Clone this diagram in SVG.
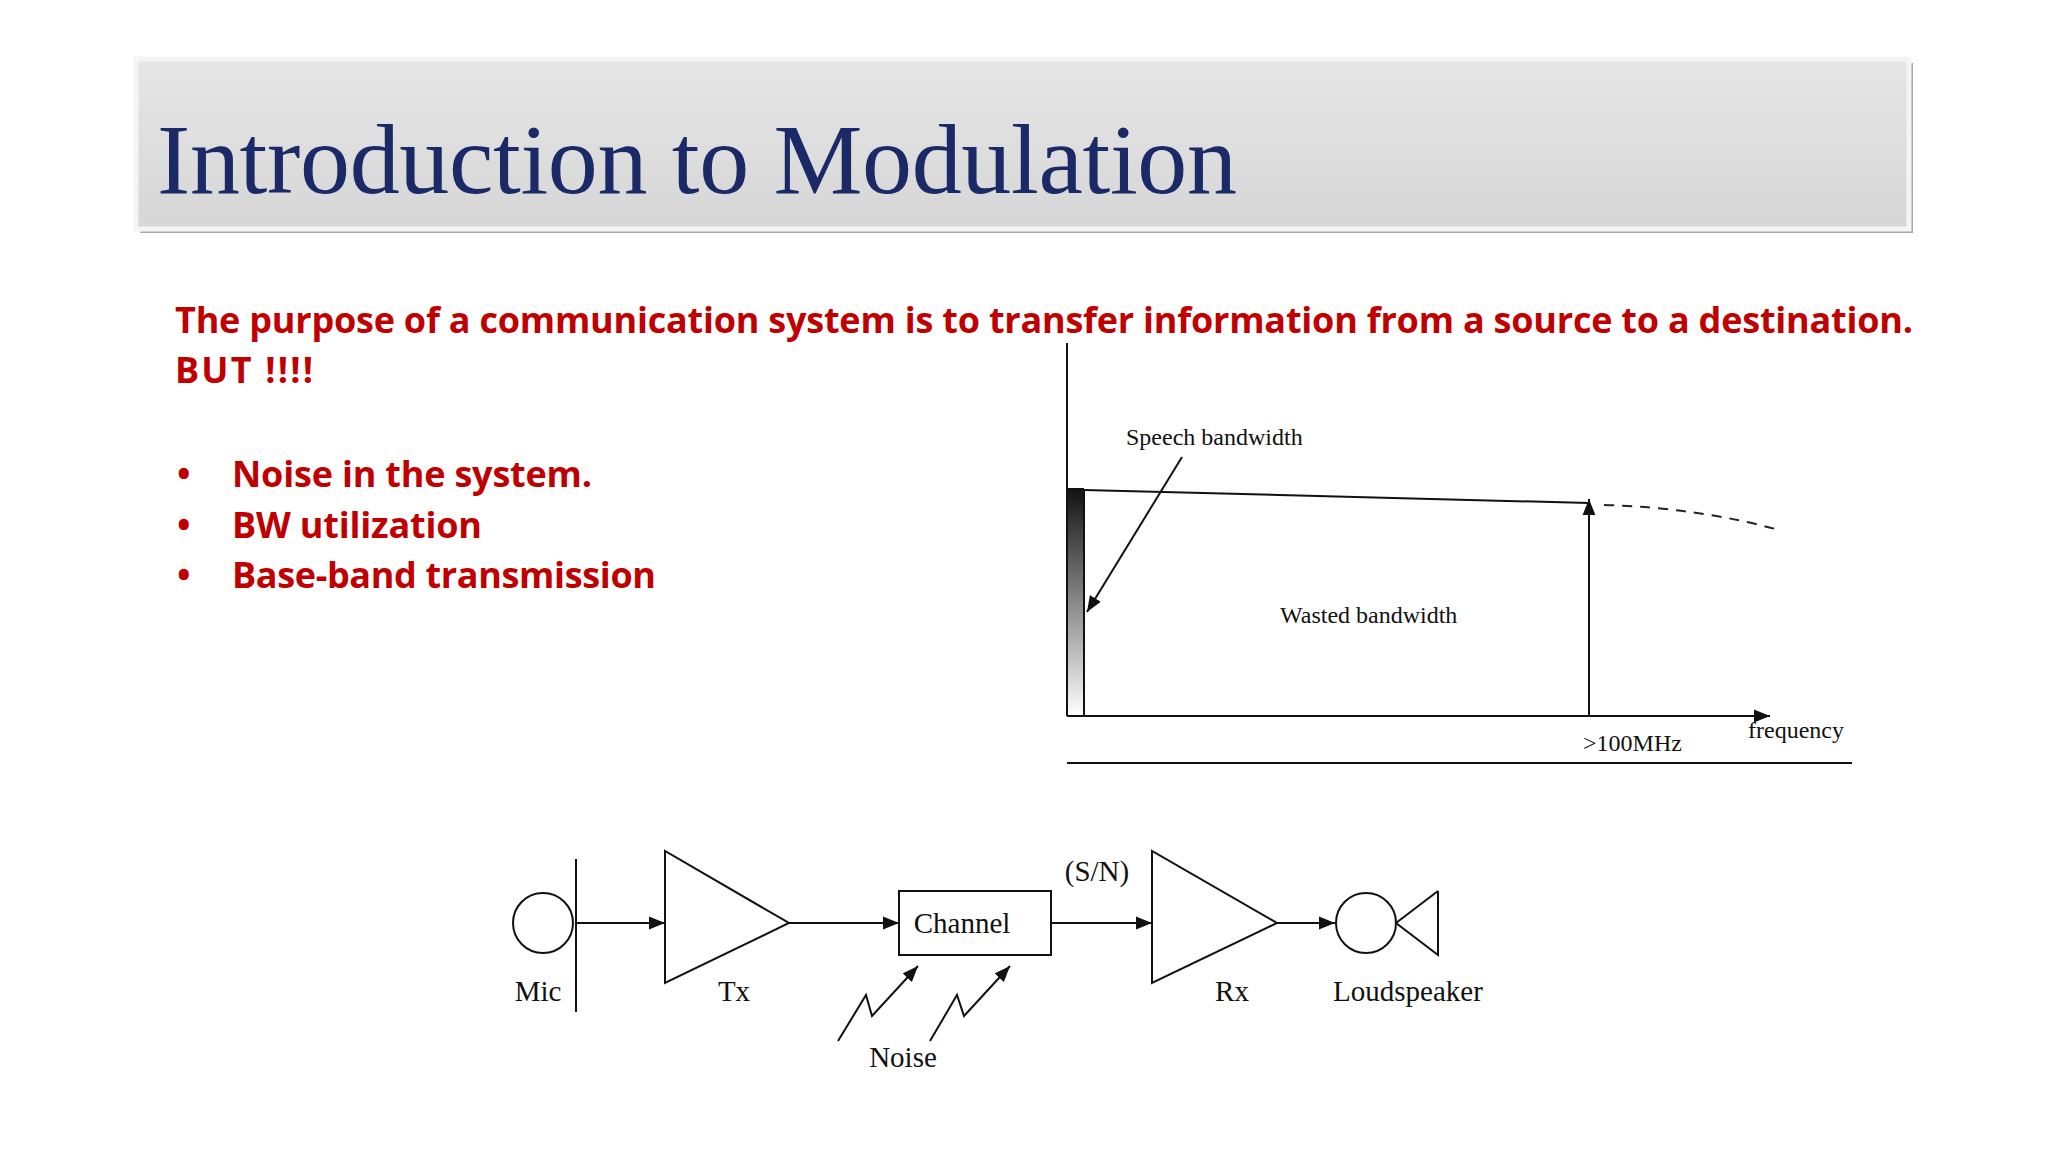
<svg xmlns="http://www.w3.org/2000/svg" width="2048" height="1152" viewBox="0 0 2048 1152">
<defs>
<style>
.red{font-family:"Open Sans","Liberation Sans",sans-serif;font-weight:bold;fill:#c00000;font-size:36px}
.lbl{font-family:"Liberation Serif",serif;fill:#111;font-size:24px}
.bl{font-size:29px}
.ln{stroke:#111;stroke-width:2;fill:none}
</style>
<marker id="ah" viewBox="0 0 10 10" refX="10" refY="5" markerWidth="8" markerHeight="8" orient="auto-start-reverse"><path d="M0,1 L10,5 L0,9 z" fill="#111"/></marker>
<linearGradient id="g" x1="0" y1="0" x2="0" y2="1"><stop offset="0" stop-color="#111"/><stop offset="1" stop-color="#fff"/></linearGradient>
<linearGradient id="tb" x1="0" y1="0" x2="0" y2="1"><stop offset="0" stop-color="#e6e6e6"/><stop offset="1" stop-color="#d6d6d6"/></linearGradient>
</defs>
<rect width="2048" height="1152" fill="#fff"/>
<g id="title">
<rect x="140" y="63" width="1773" height="170" fill="#aaa"/>
<rect x="136" y="59" width="1773" height="170" fill="url(#tb)" stroke="#f4f4f4" stroke-width="5"/>
<text x="157" y="193" font-family="Liberation Serif,serif" font-size="100" fill="#1b2a66" textLength="1080">Introduction to Modulation</text>
</g>
<g id="text">
<text class="red" x="175" y="333" textLength="1738">The purpose of a communication system is to transfer information from a source to a destination.</text>
<text class="red" x="175" y="383" textLength="138">BUT !!!!</text>
<text class="red" x="177" y="487">•</text><text class="red" x="232" y="487" textLength="360">Noise in the system.</text>
<text class="red" x="177" y="538">•</text><text class="red" x="232" y="538" textLength="250">BW utilization</text>
<text class="red" x="177" y="588">•</text><text class="red" x="232" y="588" textLength="424">Base-band transmission</text>
</g>
<g id="graph">
<rect x="1068" y="488" width="16" height="228" fill="url(#g)"/>
<line class="ln" x1="1067" y1="343" x2="1067" y2="716"/>
<line class="ln" x1="1067" y1="716" x2="1770" y2="716" marker-end="url(#ah)"/>
<line class="ln" x1="1084" y1="490" x2="1084" y2="716"/>
<line class="ln" x1="1084" y1="490" x2="1589" y2="503"/>
<line class="ln" x1="1589" y1="716" x2="1589" y2="499" marker-end="url(#ah)"/>
<path d="M1604,505 Q1700,508 1779,530" stroke="#222" stroke-width="2" fill="none" stroke-dasharray="10,8"/>
<line class="ln" x1="1182" y1="457" x2="1087" y2="612" stroke-width="1.5" marker-end="url(#ah)"/>
<line class="ln" x1="1067" y1="763" x2="1852" y2="763"/>
<text class="lbl" x="1126" y="445" font-size="22">Speech bandwidth</text>
<text class="lbl" x="1280" y="623" font-size="22">Wasted bandwidth</text>
<text class="lbl" x="1583" y="751" font-size="22">&gt;100MHz</text>
<text class="lbl" x="1748" y="738" font-size="22">frequency</text>
</g>
<g id="mic"><circle class="ln" cx="543" cy="923" r="30"/><line class="ln" x1="576" y1="859" x2="576" y2="1012"/><text class="lbl bl" x="538" y="1001" text-anchor="middle">Mic</text></g>
<g id="tx"><polygon class="ln" points="665,851 665,983 789,923"/><text class="lbl bl" x="734" y="1001" text-anchor="middle">Tx</text></g>
<g id="channel"><rect class="ln" x="899" y="891" width="152" height="64"/><text class="lbl bl" x="962" y="933" text-anchor="middle">Channel</text></g>
<g id="rx"><polygon class="ln" points="1152,851 1152,983 1277,923"/><text class="lbl bl" x="1232" y="1001" text-anchor="middle">Rx</text></g>
<g id="speaker"><circle class="ln" cx="1366" cy="923" r="30"/><polyline class="ln" points="1438,891 1396,923 1438,955 1438,891"/><text class="lbl bl" x="1408" y="1001" text-anchor="middle">Loudspeaker</text></g>
<g id="noise"><text class="lbl bl" x="903" y="1067" text-anchor="middle">Noise</text></g>
<g id="connectors">
<line class="ln" x1="576" y1="923" x2="665" y2="923" marker-end="url(#ah)"/>
<line class="ln" x1="789" y1="923" x2="899" y2="923" marker-end="url(#ah)"/>
<line class="ln" x1="1051" y1="923" x2="1152" y2="923" marker-end="url(#ah)"/>
<line class="ln" x1="1277" y1="923" x2="1335" y2="923" marker-end="url(#ah)"/>
<polyline class="ln" stroke-width="1.5" points="838,1041 866,995 872,1016 918,966" marker-end="url(#ah)"/>
<polyline class="ln" stroke-width="1.5" points="930,1041 957,995 964,1016 1010,966" marker-end="url(#ah)"/>
<text class="lbl bl" x="1097" y="881" text-anchor="middle">(S/N)</text>
</g>
</svg>
